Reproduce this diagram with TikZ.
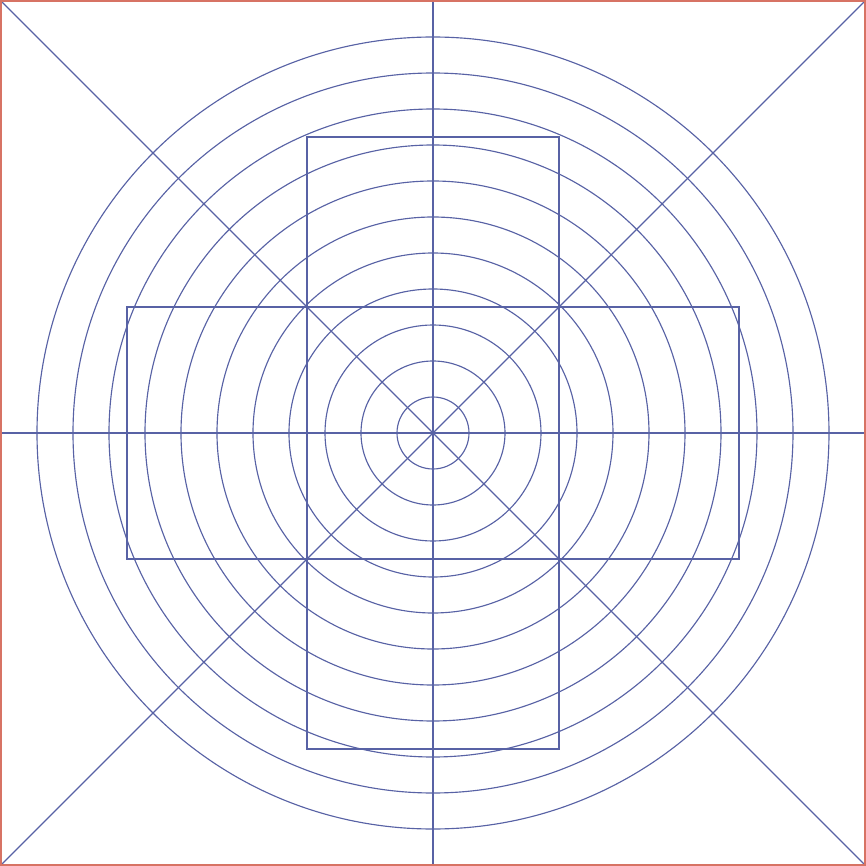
\documentclass[tikz,border=0pt]{standalone}
\usepackage{tikz}
\definecolor{gridblue}{RGB}{88,98,165}
\definecolor{framered}{RGB}{215,115,100}
\begin{document}
\begin{tikzpicture}[x=0.02cm,y=0.02cm,
  guide/.style={draw=gridblue,line width=0.65pt},
  frame/.style={draw=framered,line width=2pt}]
  \useasboundingbox (-433,-433) rectangle (433,433);
  \coordinate (c) at (0,0);
  \coordinate (nw) at (-433,433);
  \coordinate (ne) at (433,433);
  \coordinate (se) at (433,-433);
  \coordinate (sw) at (-433,-433);
  \coordinate (n) at (0,433);
  \coordinate (s) at (0,-433);
  \coordinate (w) at (-433,0);
  \coordinate (e) at (433,0);
  % circles
  \foreach \r in {1,...,11}
    \draw[guide] (c) circle ({36*\r});
  % cross and diagonals
  \draw[guide] (n) -- (s);
  \draw[guide] (w) -- (e);
  \draw[guide] (nw) -- (se);
  \draw[guide] (ne) -- (sw);
  % rectangles
  \draw[guide] (-306,126) rectangle (306,-126);
  \draw[guide] (-126,296) rectangle (126,-316);
  % frame
  \draw[frame] (nw) -- (ne) -- (se) -- (sw) -- cycle;
\end{tikzpicture}
\end{document}
